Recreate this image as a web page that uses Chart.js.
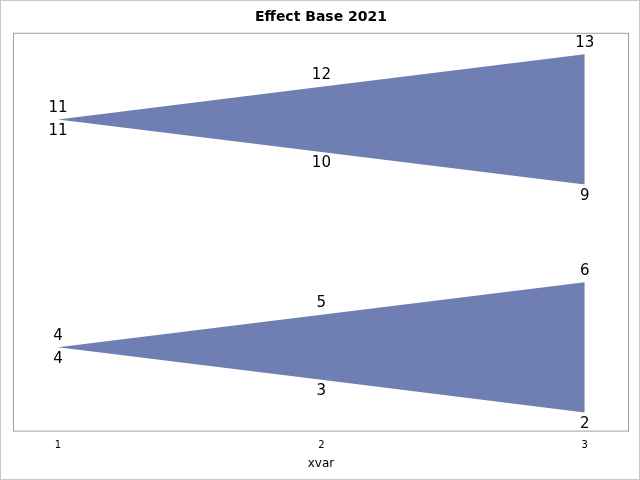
<!DOCTYPE html><html><head><script src="https://cdn.jsdelivr.net/npm/chart.js"></script>
<style>body{margin:0;background:#fff}#w{width:638px;height:478px;border:1px solid #c8c8c8}</style></head><body><div id="w"><canvas id="c"></canvas></div>
<script>
const xs=[1,2,3];
const upperA=[11,12,13], lowerA=[11,10,9];
const upperB=[4,5,6], lowerB=[4,3,2];
const col='#6f7eb3';
const pts=a=>a.map((v,i)=>({x:xs[i],y:v}));
const frame={id:'frame',afterDraw(c){const a=c.chartArea,g=c.ctx;g.save();g.strokeStyle='#a0a0a0';g.lineWidth=1;g.strokeRect(a.left+.5,a.top+.5,a.width-1,a.height-1);
g.font='15px "DejaVu Sans", sans-serif';g.fillStyle='#000';g.textAlign='center';
c.data.datasets.forEach(d=>{const up=d.up;d.data.forEach(p=>{const X=c.scales.x.getPixelForValue(p.x),Y=c.scales.y.getPixelForValue(p.y);g.textBaseline=up?'bottom':'top';g.fillText(p.y,X,up?Y-4:Y+4);});});g.restore();}};
new Chart(document.getElementById('c'),{type:'line',data:{datasets:[
{data:pts(upperA),up:true,fill:'+1',backgroundColor:col,borderWidth:0,pointRadius:0},
{data:pts(lowerA),up:false,fill:false,borderWidth:0,pointRadius:0},
{data:pts(upperB),up:true,fill:'+1',backgroundColor:col,borderWidth:0,pointRadius:0},
{data:pts(lowerB),up:false,fill:false,borderWidth:0,pointRadius:0}]},
options:{responsive:true,maintainAspectRatio:false,animation:false,layout:{padding:{left:12,right:10,top:0,bottom:4}},
plugins:{legend:{display:false},tooltip:{enabled:false},title:{display:true,text:'Effect Base 2021',color:'#000',font:{size:14,weight:'bold',family:'"DejaVu Sans", sans-serif'},padding:{top:8,bottom:7}}},
scales:{x:{type:'linear',min:0.829,max:3.168,afterBuildTicks(s){s.ticks=xs.map(v=>({value:v}));},grid:{display:false,drawTicks:true,tickLength:5,color:'#888'},border:{display:false},ticks:{color:'#000',font:{size:10,family:'"DejaVu Sans", sans-serif'}},title:{display:true,text:'xvar',color:'#000',font:{size:12,family:'"DejaVu Sans", sans-serif'},padding:{top:2}}},
y:{display:false,min:1.41,max:13.66}}},plugins:[frame]});
</script></body></html>
